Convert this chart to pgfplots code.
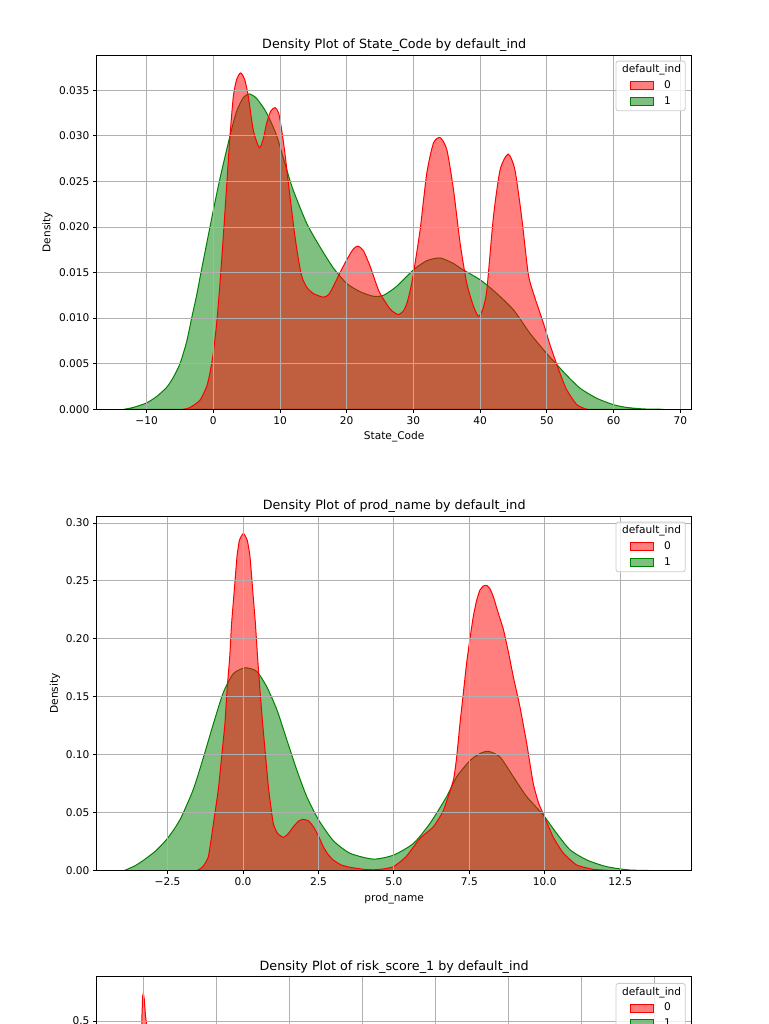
\documentclass[border=0pt]{standalone}
\usepackage{fontspec}
\setmainfont{DejaVu Sans}
\usepackage{pgfplots}
\pgfplotsset{compat=1.18}

\definecolor{mplgreen}{HTML}{008000}
\definecolor{gridgray}{HTML}{B0B0B0}
\definecolor{legframe}{HTML}{CCCCCC}

\newcommand{\ticksize}{\fontsize{10.6}{12.7}\selectfont}
\newcommand{\titlesize}{\fontsize{12.73}{15.2}\selectfont}

\pgfplotsset{
  kde axis/.style={
    scale only axis, width=595pt, height=354.5pt,
    anchor=south west,
    axis on top,
    scaled ticks=false,
    grid=major,
    grid style={draw=gridgray, line width=0.85pt},
    axis line style={line width=0.85pt},
    tick pos=left, tick align=outside,
    major tick length=3.7pt,
    every tick/.style={black, line width=0.85pt},
    ticklabel style={font=\ticksize},
    label style={font=\ticksize},
    every axis title shift=0pt,
    title style={font=\titlesize, at={(axis description cs:0.5,1.0183)}, anchor=base, inner sep=0pt},
    xlabel style={at={(axis description cs:0.5,-0.0864)}, anchor=base, inner sep=0pt},
    legend cell align=left,
    legend style={
      at={(rel axis cs:1,1)}, anchor=north east, xshift=-6pt, yshift=-5.7pt,
      draw=legframe, line width=0.85pt, rounded corners=2.5pt,
      fill=white, fill opacity=0.8, draw opacity=1, text opacity=1,
      font=\ticksize,
      inner xsep=14.3pt, inner ysep=4pt,
      row sep=5.4pt, column sep=10pt,
      nodes={inner sep=0pt, text height=7.8pt, text depth=2.5pt},
    },
  },
  fill0/.style={draw=red, line width=1pt, fill=red, fill opacity=0.5},
  fill1/.style={draw=mplgreen, line width=1pt, fill=mplgreen, fill opacity=0.5},
}

% legend with a centred title and two patch handles
\newcommand{\kdelegend}{%
  \addlegendimage{empty legend}
  \addlegendentry{\makebox[0pt][l]{\hspace*{-13.1pt}\makebox[0pt]{default\_ind}}}
  \addlegendimage{legend image code/.code={\draw[sharp corners, draw=red, fill=red, fill opacity=0.5, line width=1pt] (0pt,-4pt) rectangle (23pt,4pt);}}
  \addlegendentry{0}
  \addlegendimage{legend image code/.code={\draw[sharp corners, draw=mplgreen, fill=mplgreen, fill opacity=0.5, line width=1pt] (0pt,-4pt) rectangle (23pt,4pt);}}
  \addlegendentry{1}
}

\begin{document}
\begin{tikzpicture}
\path[use as bounding box] (0,0) rectangle (768pt,1024pt);
\clip (0,0) rectangle (768pt,1024pt);

% ---------------- State_Code ----------------
\begin{axis}[kde axis,
  at={(96.7pt,614.7pt)}, height=354.3pt,
  xmin=-17.48, xmax=71.71, ymin=0, ymax=0.03887,
  xtick={-10,0,10,20,30,40,50,60,70},
  xticklabels={−10,0,10,20,30,40,50,60,70},
  ytick={0,0.005,0.01,0.015,0.02,0.025,0.03,0.035},
  yticklabels={0.000,0.005,0.010,0.015,0.020,0.025,0.030,0.035},
  title={Density Plot of State\_Code by default\_ind},
  xlabel={State\_Code}, ylabel={Density},
  ylabel style={at={(axis description cs:-0.0777,0.5)}, anchor=base, inner sep=0pt},
]
\addplot[fill1, smooth, tension=0.4, forget plot] coordinates {
(-13.4,0) (-12,0.0002) (-10,0.0007) (-8.5,0.0014) (-7,0.0024) (-6,0.0035)
(-5,0.005) (-4,0.0074) (-3.25,0.0100) (-2.5,0.0125) (-1.85,0.015) (-0.5,0.020)
(0.9,0.025) (2.5,0.030) (3.5,0.0327) (4.5,0.0342) (5.4,0.0346) (6.5,0.0341)
(8,0.0325) (9.5,0.0300) (11,0.0263) (12,0.0240) (14,0.0204) (16,0.0178)
(18,0.0155) (20,0.0138) (22,0.0129) (24,0.0124) (25.5,0.0125) (27.5,0.0135)
(30,0.0153) (32,0.0163) (34,0.0166) (36,0.0160) (37,0.0155) (40,0.0142)
(42.5,0.0127) (45,0.0109) (47.5,0.0083) (50,0.0061) (51.5,0.0049) (53,0.0037)
(55,0.0023) (57.5,0.0012) (60,0.0005) (62,0.0002) (64.5,0.00004) (67.6,0)
} \closedcycle;
\addplot[fill0, smooth, tension=0.4, forget plot] coordinates {
(-4.5,0) (-3.5,0.0002) (-2,0.001) (-1,0.0025) (-0.5,0.004) (0,0.0062)
(0.5,0.0094) (1,0.0138) (1.5,0.019) (2,0.0245) (2.5,0.030) (3,0.0343)
(3.5,0.0362) (4.1,0.0369) (4.7,0.0362) (5.25,0.0343) (6,0.0306) (6.9,0.0287)
(7.5,0.0297) (8,0.0314) (8.6,0.0327) (9.25,0.0331) (9.8,0.0325) (10.25,0.0306)
(10.75,0.0280) (11.25,0.0248) (11.75,0.0218) (12.25,0.0189) (12.75,0.0165)
(13.25,0.0146) (14,0.0134) (15,0.0127) (16.5,0.0123) (17.3,0.0126) (18,0.0135)
(19,0.0150) (20,0.0164) (21,0.0176) (21.7,0.0179) (22.5,0.0174) (23.5,0.0157)
(24.3,0.0140) (25,0.0127) (26.5,0.0110) (27.7,0.0104) (28.5,0.0108) (29,0.0116)
(29.5,0.0130) (30,0.0149) (31,0.0197) (32,0.0259) (33,0.0292) (34,0.0298)
(35,0.0285) (36,0.0241) (37,0.0182) (38,0.0138) (39,0.0113) (39.75,0.0102)
(40.4,0.0110) (41,0.0131) (42,0.0212) (43,0.0263) (44.2,0.0280) (45.2,0.0263)
(46.2,0.0212) (47.2,0.0149) (48,0.0127) (49.5,0.0094) (50.5,0.0070) (51.5,0.0049)
(52.3,0.0033) (53,0.0021) (54.5,0.0005) (56,0)
} \closedcycle;
\kdelegend
\end{axis}

% ---------------- prod_name ----------------
\begin{axis}[kde axis,
  at={(96.7pt,153.3pt)}, height=354.7pt,
  xmin=-4.85, xmax=14.87, ymin=0, ymax=0.306,
  xtick={-2.5,0,2.5,5,7.5,10,12.5},
  xticklabels={−2.5,0.0,2.5,5.0,7.5,10.0,12.5},
  ytick={0,0.05,0.1,0.15,0.2,0.25,0.3},
  yticklabels={0.00,0.05,0.10,0.15,0.20,0.25,0.30},
  title={Density Plot of prod\_name by default\_ind},
  xlabel={prod\_name}, ylabel={Density},
  ylabel style={at={(axis description cs:-0.0652,0.5)}, anchor=base, inner sep=0pt},
]
\addplot[fill1, smooth, tension=0.4, forget plot] coordinates {
(-3.95,0) (-3.6,0.004) (-3.3,0.009) (-2.9,0.017) (-2.5,0.028) (-2.09,0.044)
(-1.65,0.070) (-1.31,0.098) (-0.98,0.127) (-0.65,0.154) (-0.32,0.170) (0.07,0.175)
(0.45,0.172) (0.78,0.159) (1.12,0.139) (1.45,0.113) (1.78,0.087) (2.11,0.064)
(2.5,0.044) (2.99,0.026) (3.55,0.015) (4.32,0.0100) (4.99,0.0135) (5.65,0.0236)
(6.2,0.041) (6.75,0.064) (7.08,0.081) (7.52,0.095) (7.85,0.101) (8.13,0.103)
(8.52,0.098) (8.96,0.081) (9.4,0.064) (9.95,0.048) (10.4,0.032) (10.84,0.018)
(11.4,0.0092) (12.05,0.0035) (12.83,0.0006) (13.98,0)
} \closedcycle;
\addplot[fill0, smooth, tension=0.3, forget plot] coordinates {
(-1.54,0) (-1.35,0.003) (-1.15,0.012) (-0.98,0.041) (-0.82,0.070) (-0.71,0.098)
(-0.6,0.127) (-0.53,0.156) (-0.44,0.185) (-0.38,0.213) (-0.29,0.242) (-0.2,0.271)
(-0.12,0.285) (0.01,0.291) (0.14,0.285) (0.23,0.271) (0.32,0.242) (0.41,0.213)
(0.48,0.185) (0.56,0.156) (0.65,0.127) (0.75,0.098) (0.85,0.070) (1.0,0.041)
(1.15,0.032) (1.34,0.0288) (1.5,0.032) (1.67,0.038) (1.85,0.043) (2.0,0.0443)
(2.17,0.043) (2.33,0.038) (2.5,0.030) (2.66,0.0207) (2.82,0.014) (2.99,0.0092)
(3.25,0.005) (3.55,0.0029) (4.0,0.0012) (4.32,0.0008) (4.65,0.0015) (4.99,0.0035)
(5.4,0.012) (5.87,0.028) (6.31,0.038) (6.64,0.052) (6.97,0.078) (7.08,0.098)
(7.19,0.127) (7.3,0.153) (7.41,0.179) (7.52,0.200) (7.63,0.219) (7.74,0.233)
(7.85,0.242) (7.97,0.2457) (8.08,0.246) (8.19,0.243) (8.3,0.236) (8.45,0.223)
(8.63,0.208) (8.8,0.188) (8.96,0.167) (9.18,0.141) (9.4,0.110) (9.62,0.075)
(9.8,0.058) (9.95,0.049) (10.28,0.029) (10.62,0.015) (11.06,0.0049) (11.61,0.0012)
(12.3,0)
} \closedcycle;
\kdelegend
\end{axis}

% ---------------- risk_score_1 (lower part runs past the page edge) ----------------
\begin{axis}[kde axis,
  at={(96.7pt,-307.2pt)}, height=354.5pt,
  xmin=-63.9, xmax=750.7, ymin=0, ymax=0.5714,
  xtick={0,100,200,300,400,500,600,700},
  xticklabels={},
  ytick={0,0.1,0.2,0.3,0.4,0.5},
  yticklabels={,,,,,0.5},
  title={Density Plot of risk\_score\_1 by default\_ind},
  legend style={yshift=-0.6pt},
]
\addplot[fill1, forget plot] coordinates {
(-26.9,0) (-20,0.004) (-10,0.06) (-5,0.10) (0,0.12) (5,0.11) (10,0.09)
(20,0.06) (30,0.04) (50,0.027) (80,0.02) (150,0.017) (200,0.015) (300,0.011)
(400,0.008) (500,0.005) (600,0.002) (660,0.0007) (713.6,0)
} \closedcycle;
\addplot[fill0, forget plot] coordinates {
(-26.9,0) (-15,0.002) (-8,0.02) (-5,0.08) (-3.5,0.25) (-2.2,0.5) (-1,0.54)
(0,0.545) (1.2,0.535) (2.8,0.51) (4.7,0.49) (6,0.42) (8,0.25) (10,0.12)
(14,0.05) (20,0.03) (40,0.02) (80,0.015) (150,0.012) (250,0.008) (350,0.004)
(450,0.002) (550,0.001) (650,0.0003) (713.6,0)
} \closedcycle;
\kdelegend
\end{axis}
\end{tikzpicture}
\end{document}
